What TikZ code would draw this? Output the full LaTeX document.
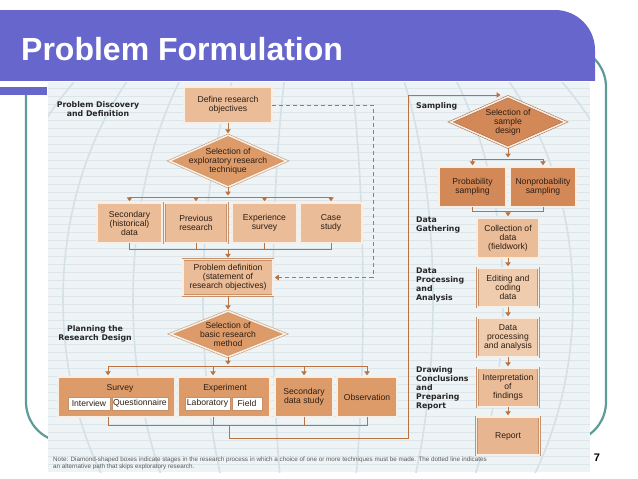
\documentclass[tikz,border=0pt]{standalone}
\usepackage{fontspec}
\setmainfont{Liberation Sans}
\newfontfamily\lsans{Liberation Sans}
\newfontfamily\dvb{DejaVu Sans}
\usetikzlibrary{arrows.meta,shapes.geometric}
\definecolor{bannerc}{RGB}{102,102,204}
\definecolor{tealc}{RGB}{95,155,150}
\definecolor{bgc}{RGB}{238,243,245}
\definecolor{gridh}{RGB}{220,230,234}
\definecolor{gridm}{RGB}{212,225,231}
\definecolor{brownl}{RGB}{185,115,65}
\definecolor{boxline}{RGB}{200,145,105}
\definecolor{boxgap}{RGB}{248,238,228}
\definecolor{lightfill}{RGB}{234,188,152}
\definecolor{palefill}{RGB}{240,204,174}
\definecolor{midfill}{RGB}{221,155,106}
\definecolor{darkfill}{RGB}{211,136,88}
\definecolor{darkline}{RGB}{168,100,60}
\definecolor{txtc}{RGB}{45,30,20}
\definecolor{notec}{RGB}{90,90,90}
\newcommand\bxfont{\lsans\fontsize{8.6}{9.0}\selectfont}
\newcommand\scfont{\dvb\bfseries\fontsize{7.8}{9}\selectfont}
\tikzset{
  box/.style={draw=boxline, double=boxgap, double distance=1.6pt, line width=0.5pt,
    fill=lightfill, inner sep=1pt, align=center, font=\bxfont, text=txtc},
  pbox/.style={box, fill=palefill},
  mbox/.style={box, fill=midfill},
  dbox/.style={box, fill=darkfill, draw=darkline},
  dia/.style={diamond, draw=boxline, double=boxgap, double distance=1.6pt, line width=0.5pt,
    fill=midfill, inner sep=0pt},
  ddia/.style={dia, fill=darkfill, draw=darkline},
  dtext/.style={align=center, font=\bxfont, text=txtc, inner sep=0pt},
  wbox/.style={draw=boxline, fill=white, line width=0.4pt, font=\bxfont, text=txtc,
    inner sep=0pt, minimum height=13pt},
  conn/.style={draw=brownl, line width=1pt, -{Triangle[length=4pt,width=5.5pt]}, shorten >=1.5pt},
  busl/.style={draw=brownl, line width=1pt},
  dashl/.style={draw=brownl, line width=1pt, dash pattern=on 4pt off 3pt,
    -{Triangle[length=4pt,width=5.5pt]}, shorten >=1.5pt},
  sec/.style={font=\scfont, text=black!85, inner sep=0pt},
}
\begin{document}
\begin{tikzpicture}[x=1pt,y=-1pt]
\useasboundingbox (0,0) rectangle (638,479);
% slide frame
\draw[tealc, line width=2.2pt, rounded corners=40pt] (26,90) -- (26,442) -- (606,442) -- (606,47) -- (400,47);
\begin{scope}
  \clip (0,0) rectangle (638,80);
  \fill[bannerc, rounded corners=40pt] (-60,10) rectangle (595,200);
\end{scope}
\fill[bannerc] (0,87) rectangle (47,95);
\node[anchor=base west, text=white, font=\lsans\bfseries\fontsize{32}{36}\selectfont, inner sep=0pt] (title) at (21,60) {Problem Formulation};
% diagram background
\fill[bgc] (48,82) rectangle (590,472);
\begin{scope}
  \clip (48,82) rectangle (590,472);
  \foreach \yy in {88,96,...,470} \draw[gridh, line width=0.5pt] (48,\yy) -- (590,\yy);
  \foreach \rx in {45,115,185,255,325,395} \draw[gridm, line width=1.6pt] (318,300) ellipse [x radius=\rx, y radius=330];
\end{scope}
% section labels
\node[sec, align=center] (l1) at (98,109) {Problem Discovery\\and Definition};
\node[sec, align=center] (l2) at (95,334) {Planning the\\Research Design};
\node[sec, align=left, anchor=north west] (l3) at (416,102) {Sampling};
\node[sec, align=left, anchor=north west] (l4) at (416,217) {Data\\Gathering};
\node[sec, align=left, anchor=north west] (l5) at (416,268) {Data\\Processing\\and\\Analysis};
\node[sec, align=left, anchor=north west] (l6) at (416,366) {Drawing\\Conclusions\\and\\Preparing\\Report};
% left column
\node[box, minimum width=88pt, minimum height=36pt] (def) at (228,105) {Define research\\objectives};
\node[dia, minimum width=117pt, minimum height=52pt] (d1) at (228,161) {};
\node[dtext] (d1t) at (d1.center) {Selection of\\exploratory research\\technique};
\node[box, minimum width=65pt, minimum height=40pt] (b1) at (129.5,223) {Secondary\\(historical)\\data};
\node[box, minimum width=63pt, minimum height=40pt] (b2) at (196,223) {Previous\\research};
\node[box, minimum width=65pt, minimum height=40pt] (b3) at (264.5,223) {Experience\\survey};
\node[box, minimum width=62pt, minimum height=40pt] (b4) at (331,223) {Case\\study};
\node[box, minimum width=90pt, minimum height=36pt] (pd) at (228,277.5) {Problem definition\\(statement of\\research objectives)};
\node[dia, minimum width=115pt, minimum height=46pt] (d2) at (228,334) {};
\node[dtext] (d2t) at (d2.center) {Selection of\\basic research\\method};
\node[mbox, minimum width=117pt, minimum height=40pt] (survey) at (116.5,397) {};
\node[dtext] (survt) at (120,388) {Survey};
\node[wbox, minimum width=42pt] (intv) at (89,403.5) {Interview};
\node[wbox, minimum width=56pt] (quest) at (140,403.5) {Questionnaire};
\node[mbox, minimum width=92pt, minimum height=40pt] (exper) at (224,397) {};
\node[dtext] (expt) at (225,388) {Experiment};
\node[wbox, minimum width=45pt] (lab) at (207.5,403.5) {Laboratory};
\node[wbox, minimum width=30pt] (field) at (247,403.5) {Field};
\node[mbox, minimum width=58pt, minimum height=40pt] (sds) at (304,397) {Secondary\\data study};
\node[mbox, minimum width=60pt, minimum height=40pt] (obs) at (367,397) {Observation};
% right column
\node[ddia, minimum width=115pt, minimum height=51pt] (d3) at (508,122) {};
\node[dtext] (d3t) at (d3.center) {Selection of\\sample\\design};
\node[dbox, minimum width=67pt, minimum height=40pt] (ps) at (472.5,187) {Probability\\sampling};
\node[dbox, minimum width=66pt, minimum height=40pt] (nps) at (543,187) {Nonprobability\\sampling};
\node[box, minimum width=62pt, minimum height=40pt] (col) at (508,238) {Collection of\\data\\(fieldwork)};
\node[pbox, minimum width=61pt, minimum height=39pt] (edit) at (508,287.5) {Editing and\\coding\\data};
\node[pbox, minimum width=61pt, minimum height=39pt] (dpa) at (508,337.5) {Data\\processing\\and analysis};
\node[box, minimum width=61pt, minimum height=39pt] (interp) at (508,387.5) {Interpretation\\of\\findings};
\node[box, fill=lightfill!88!darkfill, minimum width=63pt, minimum height=38pt] (report) at (508,436) {Report};
% coordinates
\coordinate (bus1) at (228,197);
\coordinate (bus2) at (228,249);
\coordinate (bus3) at (228,366);
\coordinate (bus4) at (229,425);
\coordinate (xs) at (108,0);
\coordinate (xe) at (213,0);
\coordinate (dx) at (373,0);
\coordinate (lp1) at (229,438);
\coordinate (lp2) at (408,438);
\coordinate (lp3) at (408,95);
\coordinate (lp4) at (502,95);
\coordinate (bus5) at (508,159);
\coordinate (bus6) at (508,211);
% connectors left
\draw[conn] (def.south) -- (d1.north);
\draw[conn] (d1.south) -- (bus1);
\draw[busl] (b1.north |- bus1) -- (b4.north |- bus1);
\foreach \b in {b1,b2,b3,b4} \draw[conn] (\b.north |- bus1) -- (\b.north);
\draw[busl] (b1.south) -- (b1.south |- bus2) -- (b4.south |- bus2) -- (b4.south);
\draw[busl] (b2.south) -- (b2.south |- bus2);
\draw[busl] (b3.south) -- (b3.south |- bus2);
\draw[conn] (bus2) -- (pd.north);
\draw[dashl] (def.east) -- (def.east -| dx) -- (pd.east -| dx) -- (pd.east);
\draw[conn] (pd.south) -- (d2.north);
\draw[conn] (d2.south) -- (bus3);
\draw[busl] (xs |- bus3) -- (obs.north |- bus3);
\draw[conn] (xs |- bus3) -- (xs |- survey.north);
\draw[conn] (xe |- bus3) -- (xe |- exper.north);
\draw[conn] (sds.north |- bus3) -- (sds.north);
\draw[conn] (obs.north |- bus3) -- (obs.north);
\draw[busl] (xs |- survey.south) -- (xs |- bus4) -- (obs.south |- bus4) -- (obs.south);
\draw[busl] (xe |- exper.south) -- (xe |- bus4);
\draw[busl] (sds.south) -- (sds.south |- bus4);
\draw[conn] (bus4) -- (lp1) -- (lp2) -- (lp3) -- (lp4);
% connectors right
\draw[conn] (d3.south) -- (bus5);
\draw[busl] (ps.north |- bus5) -- (nps.north |- bus5);
\draw[conn] (ps.north |- bus5) -- (ps.north);
\draw[conn] (nps.north |- bus5) -- (nps.north);
\draw[busl] (ps.south) -- (ps.south |- bus6) -- (nps.south |- bus6) -- (nps.south);
\draw[conn] (bus6) -- (col.north);
\draw[conn] (col.south) -- (edit.north);
\draw[conn] (edit.south) -- (dpa.north);
\draw[conn] (dpa.south) -- (interp.north);
\draw[conn] (interp.south) -- (report.north);
% note and page number
\node[anchor=north west, align=left, text=notec, font=\lsans\fontsize{6.3}{7.2}\selectfont, inner sep=0pt] (note) at (53,457) {Note: Diamond-shaped boxes indicate stages in the research process in which a choice of one or more techniques must be made. The dotted line indicates\\an alternative path that skips exploratory research.};
\node[font=\lsans\bfseries\fontsize{11}{12}\selectfont, inner sep=0pt] (pg) at (597,458) {7};
\end{tikzpicture}
\end{document}
